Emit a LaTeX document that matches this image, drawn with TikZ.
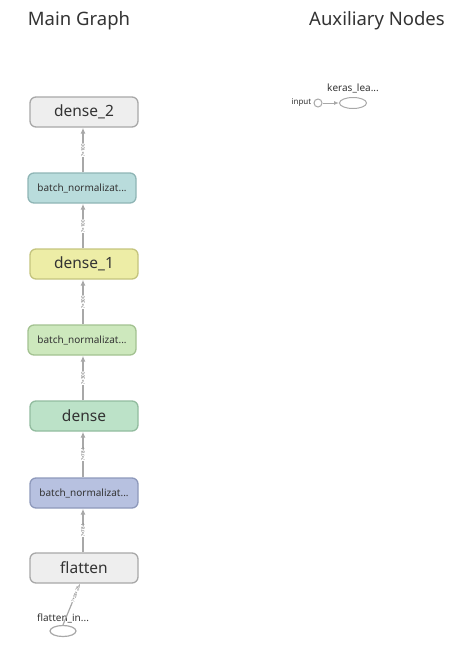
\documentclass[tikz,border=0pt]{standalone}
\usepackage{fontspec}
\setmainfont{Noto Sans}
\usetikzlibrary{positioning,arrows.meta,shapes.geometric}

\definecolor{textgray}{HTML}{333333}
\definecolor{linegray}{HTML}{A8A8A8}
\definecolor{plainfill}{HTML}{EEEEEE}
\definecolor{tealfill}{HTML}{B9DCDC}
\definecolor{tealline}{HTML}{8FB5B5}
\definecolor{yellowfill}{HTML}{EDEDA6}
\definecolor{yellowline}{HTML}{C4C47E}
\definecolor{greenfill}{HTML}{CDE8BD}
\definecolor{greenline}{HTML}{A3C291}
\definecolor{mintfill}{HTML}{BCE2C8}
\definecolor{mintline}{HTML}{92BC9F}
\definecolor{bluefill}{HTML}{B7C1E0}
\definecolor{blueline}{HTML}{8E99BB}

\begin{document}
\begin{tikzpicture}[x=1pt,y=-1pt]

	\tikzset{
		layer/.style={
			draw=linegray,
			fill=plainfill,
			line width=1.3pt,
			rounded corners=6pt,
			minimum width=108pt,
			minimum height=30pt,
			inner sep=2pt,
			text=textgray,
			font=\fontsize{15.5}{16}\selectfont
		},
		bnorm/.style={
			layer,
			font=\fontsize{10}{11}\selectfont
		},
		flow/.style={
			draw=linegray,
			line width=1.2pt,
			-{Latex[length=6pt,width=5pt]}
		},
		dimlabel/.style={
			midway,
			rotate=90,
			fill=white,
			inner sep=0.6pt,
			text=textgray!80,
			font=\fontsize{4.5}{5}\selectfont
		},
		title/.style={
			text=textgray,
			font=\fontsize{18.5}{19}\selectfont
		},
		small/.style={
			text=textgray,
			inner sep=1pt
		}
	}

	\useasboundingbox (0,0) rectangle (474,656);

	% TITLES
	\node[title] (maintitle) at (79,21) {Main Graph};
	\node[title] (auxtitle) at (377,21) {Auxiliary Nodes};

	% MAIN GRAPH
	\node[layer] (dense2) at (84,112) {dense\_2};
	\node[bnorm, fill=tealfill, draw=tealline] (bn2) at (82,188) {batch\_normalizat...};
	\node[layer, fill=yellowfill, draw=yellowline] (dense1) at (84,264) {dense\_1};
	\node[bnorm, fill=greenfill, draw=greenline] (bn1) at (82,340) {batch\_normalizat...};
	\node[layer, fill=mintfill, draw=mintline] (dense) at (84,416) {dense};
	\node[bnorm, fill=bluefill, draw=blueline] (bn) at (84,493) {batch\_normalizat...};
	\node[layer] (flatten) at (84,568) {flatten};

	% INPUT
	\node[draw=linegray, line width=1.2pt, ellipse, minimum width=26pt, minimum height=11pt, inner sep=0pt] (flatin) at (63,631) {};
	\node[small, font=\fontsize{10}{11}\selectfont] (flatinlabel) at (63,618) {flatten\_in...};

	% EDGES
	\draw[flow] (flatin.north) -- (flatten.south -| 80,0) node[dimlabel, pos=0.74, rotate=-22, font=\fontsize{4}{4}\selectfont] {?×28×28};
	\draw[flow] (flatten.north -| 83,0) -- (bn.south -| 83,0) node[dimlabel] {?×784};
	\draw[flow] (bn.north -| 83,0) -- (dense.south -| 83,0) node[dimlabel] {?×784};
	\draw[flow] (dense.north -| 83,0) -- (bn1.south -| 83,0) node[dimlabel] {?×300};
	\draw[flow] (bn1.north -| 83,0) -- (dense1.south -| 83,0) node[dimlabel] {?×300};
	\draw[flow] (dense1.north -| 83,0) -- (bn2.south -| 83,0) node[dimlabel] {?×100};
	\draw[flow] (bn2.north -| 83,0) -- (dense2.south -| 83,0) node[dimlabel] {?×100};

	% AUXILIARY NODES
	\node[draw=linegray, line width=1pt, circle, minimum size=8pt, inner sep=0pt] (auxin) at (318,103) {};
	\node[small, font=\fontsize{8}{9}\selectfont, left=1pt of auxin] (auxinlabel) {input};
	\node[draw=linegray, line width=1pt, ellipse, minimum width=27pt, minimum height=11pt, inner sep=0pt] (keras) at (353,103) {};
	\node[small, font=\fontsize{10}{11}\selectfont] (keraslabel) at (353,88) {keras\_lea...};
	\draw[draw=linegray, line width=1pt, -{Latex[length=5pt,width=4pt]}] (auxin) -- (keras);

\end{tikzpicture}
\end{document}
